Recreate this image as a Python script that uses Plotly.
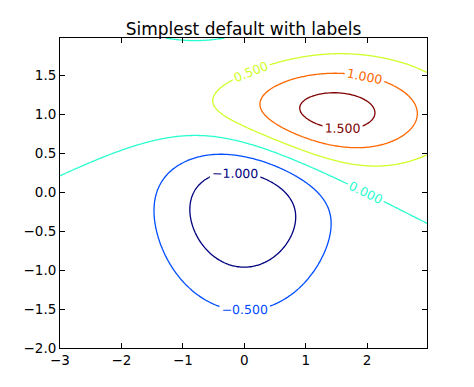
import numpy as np
import plotly.graph_objects as go

# Grid definition (matplotlib contour demo)
x_range = [-3.0, 3.0]
y_range = [-2.0, 2.0]
step = 0.025

# Two Gaussian bumps: [mu_x, mu_y, sigma_x, sigma_y]
bump_neg = [0.0, 0.0, 1.0, 1.0]
bump_pos = [1.0, 1.0, 1.5, 0.5]
amplitude = 10.0

levels = [-1.0, -0.5, 0.0, 0.5, 1.0, 1.5]
level_colors = ["#000080", "#004dff", "#29ffce", "#ceff29", "#ff6800", "#800000"]

x = np.arange(x_range[0], x_range[1], step)
y = np.arange(y_range[0], y_range[1], step)
X, Y = np.meshgrid(x, y)


def bivariate(X, Y, p):
    mx, my, sx, sy = p
    return np.exp(-0.5 * (((X - mx) / sx) ** 2 + ((Y - my) / sy) ** 2)) / (2 * np.pi * sx * sy)


Z = amplitude * (bivariate(X, Y, bump_pos) - bivariate(X, Y, bump_neg))

n = len(level_colors)
colorscale = [[i / (n - 1), c] for i, c in enumerate(level_colors)]

fig = go.Figure(go.Contour(
    x=x, y=y, z=Z,
    contours=dict(start=levels[0], end=levels[-1], size=levels[1] - levels[0],
                  coloring="lines", showlabels=True,
                  labelformat=".3f",
                  labelfont=dict(family="DejaVu Sans", size=12.5)),
    colorscale=colorscale,
    line=dict(width=1.3),
    showscale=False,
))

axis_common = dict(showline=True, linecolor="black", linewidth=1, mirror="ticks",
                   ticks="inside", ticklen=5, tickcolor="black", showgrid=False,
                   zeroline=False, tickfont=dict(family="DejaVu Sans", size=13.5, color="black"))

fig.update_xaxes(range=[x[0], x[-1]], tickvals=[-3, -2, -1, 0, 1, 2], **axis_common)
fig.update_yaxes(range=[y[0], y[-1]], tickvals=[-2.0, -1.5, -1.0, -0.5, 0.0, 0.5, 1.0, 1.5],
                 tickformat=".1f", **axis_common)

# page body has an 8px margin, so the figure is shrunk and offset accordingly
fig.update_layout(
    width=466, height=379,
    margin=dict(l=52, r=47, t=30, b=39),
    paper_bgcolor="white", plot_bgcolor="white",
    title=dict(text="Simplest default with labels", x=(243.5 - 8) / 466, xanchor="center",
               y=1 - 27 / 379, yanchor="bottom", yref="container",
               font=dict(family="DejaVu Sans", size=17, color="black")),
    font=dict(family="DejaVu Sans"),
)

fig.write_html("out.html")
